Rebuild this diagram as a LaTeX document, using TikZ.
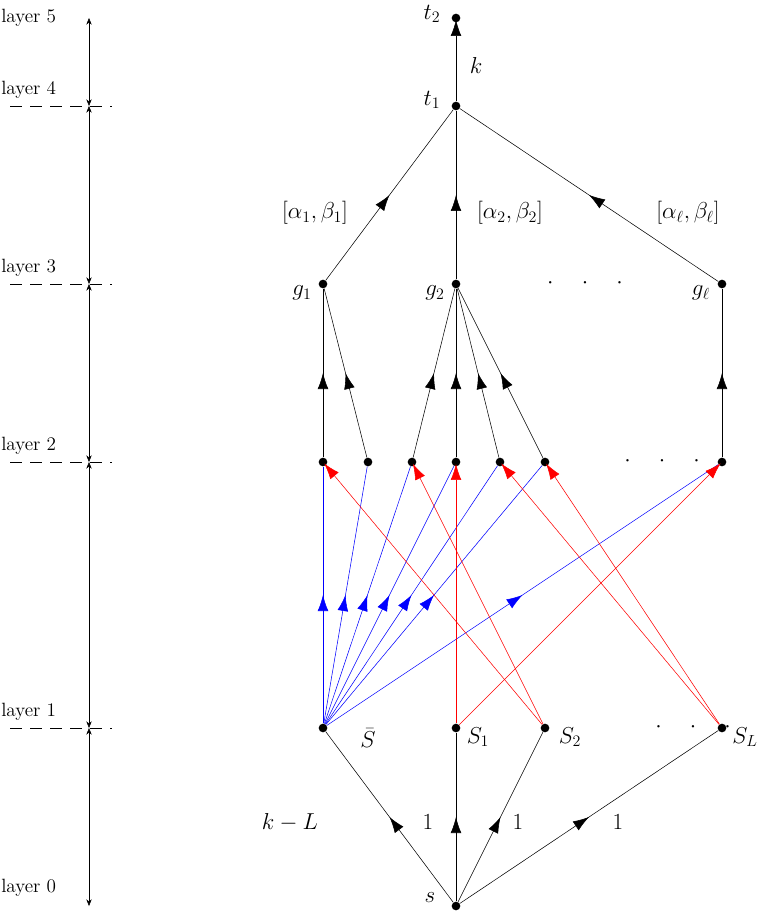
\documentclass[tikz,border=0pt]{standalone}
\usetikzlibrary{arrows.meta,decorations.markings}
\begin{document}
\begin{tikzpicture}[x=0.75pt,y=-0.75pt,
  dot/.style={circle,fill,inner sep=0pt,minimum size=6.5pt},
  midarr/.style={decoration={markings,mark=at position 0.5 with {\arrow{Latex[length=12pt,width=8pt]}}},postaction={decorate}},
  endarr/.style={-{Latex[length=12pt,width=8pt]},shorten >=-2pt},
  scalearr/.style={{Stealth[length=5pt,width=4pt]}-{Stealth[length=5pt,width=4pt]}},
  lab/.style={font=\LARGE},
  dts/.style={font=\LARGE}]
\useasboundingbox (0,0) rectangle (768,916);
% nodes
\node[dot] (t2) at (456,18) {};
\node[dot] (t1) at (456,106) {};
\node[dot] (g1) at (323,284) {};
\node[dot] (g2) at (456,284) {};
\node[dot] (gl) at (722,284) {};
\foreach \x/\n in {323/a,368/b,412/c,456/d,500/e,545/f,722/z}
  \node[dot] (m\n) at (\x,462) {};
\node[dot] (sb) at (323,728) {};
\node[dot] (s1) at (456,728) {};
\node[dot] (s2) at (545,728) {};
\node[dot] (sl) at (722,728) {};
\node[dot] (s) at (456,906) {};
% labels
\node[lab] at (432,14) {$t_2$};
\node[lab] at (432,100) {$t_1$};
\node[lab] at (476,66) {$k$};
\node[lab] at (302,293) {$g_1$};
\node[lab] at (435,293) {$g_2$};
\node[lab] at (701,293) {$g_\ell$};
\node[dts] at (585,283) {$\cdot\quad\cdot\quad\cdot$};
\node[dts] at (662,461) {$\cdot\quad\cdot\quad\cdot$};
\node[dts] at (693,727) {$\cdot\quad\cdot\quad\cdot$};
\node[lab] at (368,738) {$\bar S$};
\node[lab] at (478,737) {$S_1$};
\node[lab] at (570,737) {$S_2$};
\node[lab] at (745,737) {$S_L$};
\node[lab] at (430,898) {$s$};
\node[lab] at (315,213) {$[\alpha_1,\beta_1]$};
\node[lab] at (510,213) {$[\alpha_2,\beta_2]$};
\node[lab] at (688,213) {$[\alpha_\ell,\beta_\ell]$};
\node[lab] at (290,822) {$k-L$};
\node[lab] at (428,822) {$1$};
\node[lab] at (518,822) {$1$};
\node[lab] at (618,822) {$1$};
% black edges
\draw[endarr] (t1) -- (t2);
\draw[midarr] (g1) -- (t1);
\draw[midarr] (g2) -- (t1);
\draw[midarr] (gl) -- (t1);
\draw[midarr] (ma) -- (g1);
\draw[midarr] (mb) -- (g1);
\foreach \n in {c,d,e,f} \draw[midarr] (m\n) -- (g2);
\draw[midarr] (mz) -- (gl);
\foreach \n in {sb,s1,s2,sl} \draw[midarr] (s) -- (\n);
% blue
\foreach \n in {a,b,c,d,e,f,z} \draw[blue,midarr] (sb) -- (m\n);
% red
\draw[red,endarr] (s1) -- (md);
\draw[red,endarr] (s1) -- (mz);
\draw[red,endarr] (s2) -- (ma);
\draw[red,endarr] (s2) -- (mc);
\draw[red,endarr] (sl) -- (me);
\draw[red,endarr] (sl) -- (mf);
% scale
\foreach \y/\t in {18/5,90/4,268/3,446/2,712/1,888/0}
  \node[anchor=west,inner sep=0pt,font=\Large] at (1,\y) {layer \t};
\foreach \y in {106,284,462,728}
  \draw[dashed,dash pattern=on 9pt off 6pt] (10,\y) -- (112,\y);
\foreach \a/\b in {18/106,106/284,284/462,462/728,728/906}
  \draw[scalearr] (89,\a) -- (89,\b);
\end{tikzpicture}
\end{document}
